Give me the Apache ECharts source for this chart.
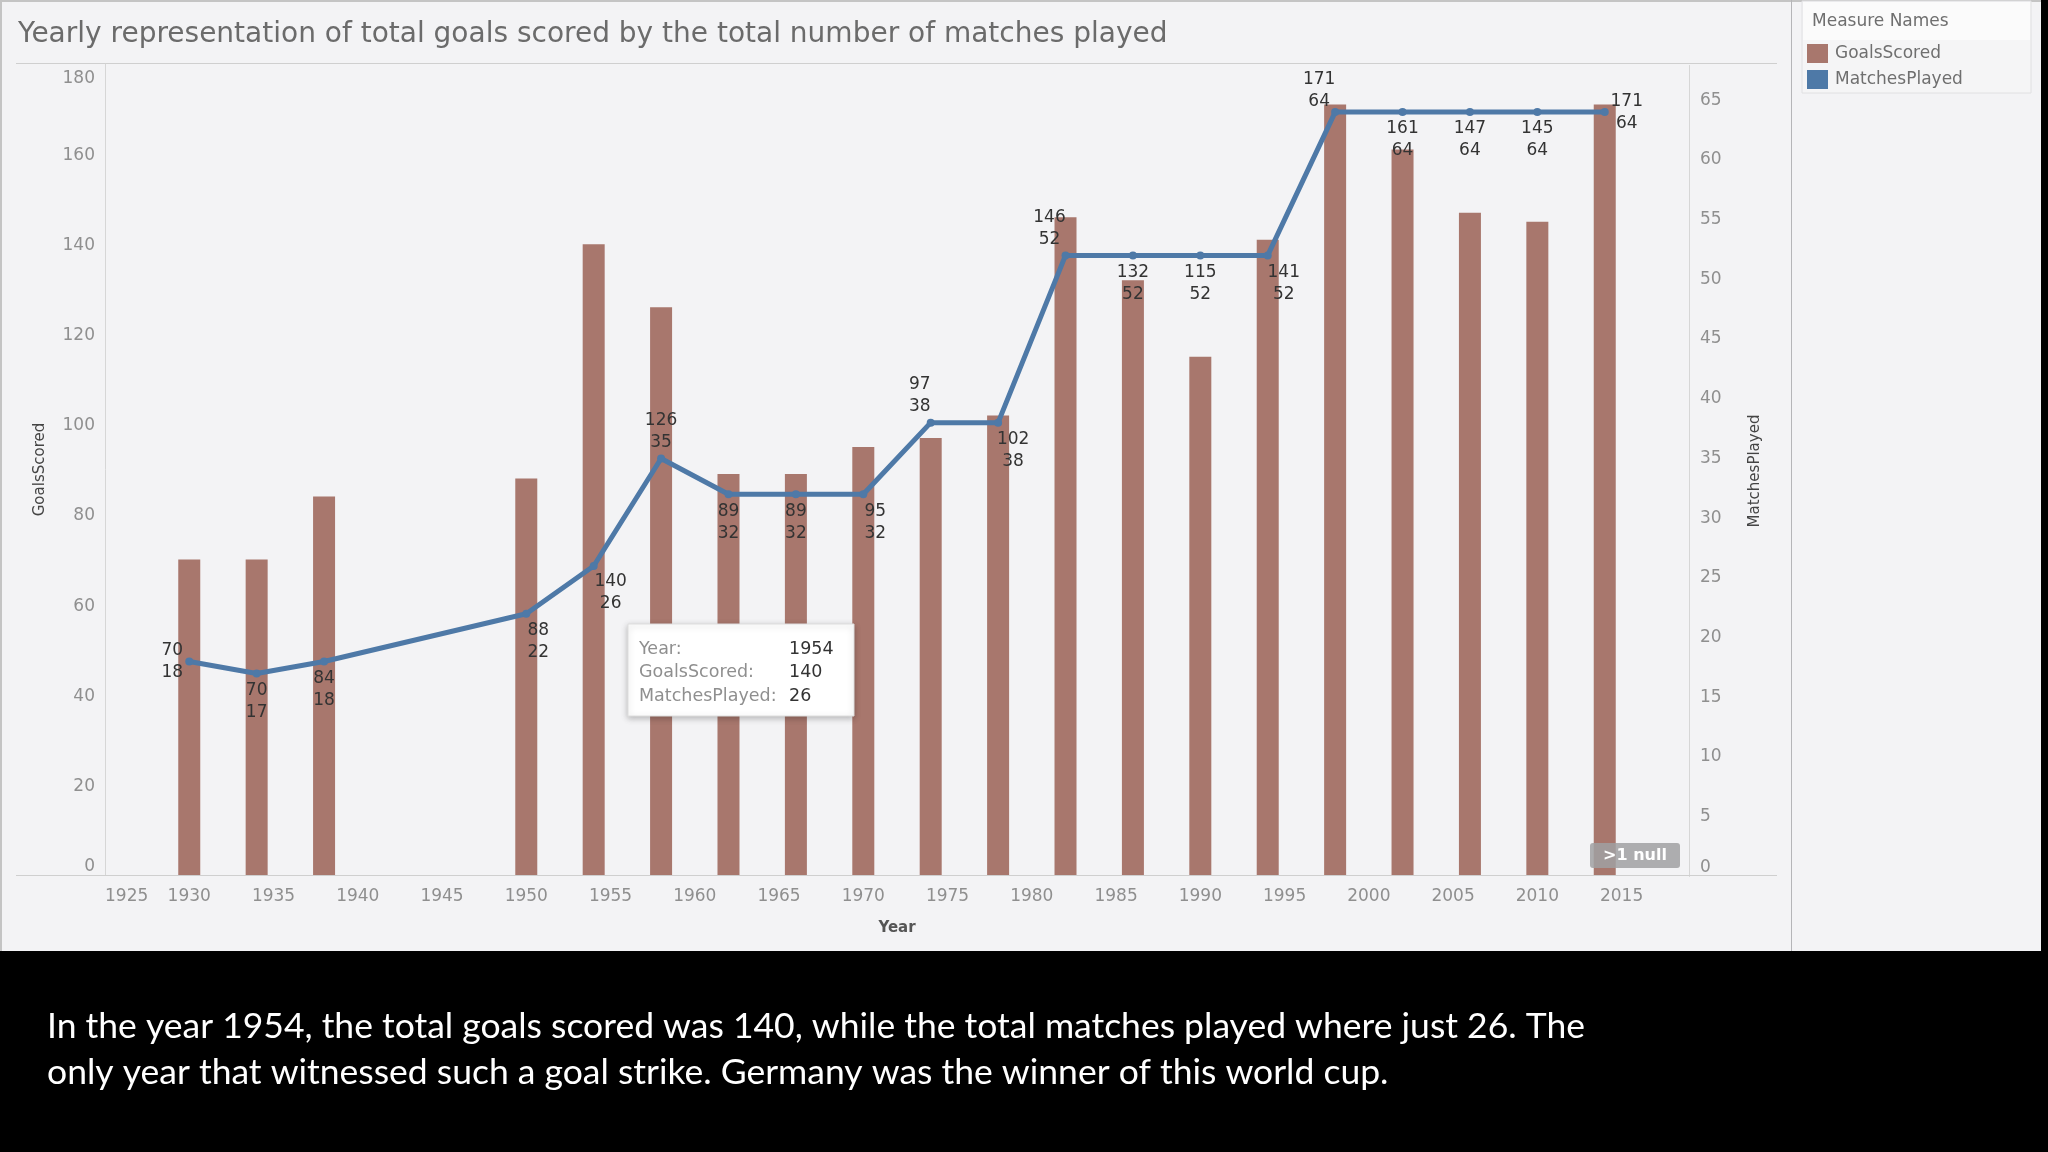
<!DOCTYPE html>
<html>
<head>
<meta charset="utf-8">
<title>Goals by matches</title>
<script src="https://cdn.jsdelivr.net/npm/echarts@6/dist/echarts.min.js"></script>
<style>
  html, body { margin: 0; padding: 0; background: #000; }
  #main { width: 2048px; height: 1152px; }
</style>
</head>
<body>
<div id="main"></div>
<script>
var years = [1930, 1934, 1938, 1950, 1954, 1958, 1962, 1966, 1970, 1974, 1978, 1982, 1986, 1990, 1994, 1998, 2002, 2006, 2010, 2014];
var goalsScored = [70, 70, 84, 88, 140, 126, 89, 89, 95, 97, 102, 146, 132, 115, 141, 171, 161, 147, 145, 171];
var matchesPlayed = [18, 17, 18, 22, 26, 35, 32, 32, 32, 38, 38, 52, 52, 52, 52, 64, 64, 64, 64, 64];
var seriesNames = ['GoalsScored', 'MatchesPlayed'];
var titleText = 'Yearly representation of total goals scored by the total number of matches played';
var captionLines = [
  'In the year 1954, the total goals scored was 140, while the total matches played where just 26. The',
  'only year that witnessed such a goal strike. Germany was the winner of this world cup.'
];

// where each mark label sits relative to its point, the labels dodge the line in the original
var labelOffsets = [
  [-17, 0], [0, 28], [0, 28], [12, 28], [17, 27], [0, -27], [0, 28], [0, 28], [12, 28], [-11, -27],
  [15, 28], [-16, -27], [0, 28], [0, 28], [16, 28], [-16, -22], [0, 27], [0, 27], [0, 27], [22, 0]
];

var font = '"DejaVu Sans", sans-serif';
var tickColor = '#8f8f8f';
var barColor = '#a8776d';
var lineColor = '#4e79a7';

// the callout in the picture is for 1954
var hover = years.indexOf(1954);

var chart = echarts.init(document.getElementById('main'));

var axisNameStyle = { fontFamily: font, fontSize: 15, color: '#444' };

var option = {
  animation: false,
  backgroundColor: '#000',
  textStyle: { fontFamily: font },
  // second grid sits a pixel lower, the line's axis is a little off the bars' baseline in the original
  grid: [
    { left: 105, right: 359, top: 64, bottom: 277 },
    { left: 105, right: 359, top: 65.5, bottom: 275.5 }
  ],
  legend: {
    orient: 'vertical',
    left: 1807,
    top: 44,
    padding: 0,
    itemWidth: 21,
    itemHeight: 19,
    itemGap: 7,
    icon: 'rect',
    data: seriesNames,
    textStyle: { fontFamily: font, fontSize: 17, color: '#6f6f6f', padding: [0, 0, 0, 2] }
  },
  xAxis: [
    {
      type: 'value',
      gridIndex: 0,
      min: 1925,
      max: 2019,
      interval: 5,
      name: 'Year',
      nameLocation: 'middle',
      nameGap: 46,
      nameTextStyle: { fontFamily: font, fontSize: 15, fontWeight: 600, color: '#555' },
      splitLine: { show: false },
      axisTick: { show: false },
      axisLine: { show: false },
      axisLabel: {
        fontSize: 17,
        color: tickColor,
        margin: 13,
        showMaxLabel: false,
        alignMinLabel: 'left',
        formatter: function (v) { return String(v); }
      }
    },
    { type: 'value', gridIndex: 1, min: 1925, max: 2019, show: false }
  ],
  yAxis: [
    {
      type: 'value',
      gridIndex: 0,
      min: 0,
      max: 180,
      interval: 20,
      name: seriesNames[0],
      nameLocation: 'middle',
      nameRotate: 90,
      nameGap: 57,
      nameTextStyle: axisNameStyle,
      splitLine: { show: false },
      axisTick: { show: false },
      axisLine: { show: true, lineStyle: { color: '#d6d6d6', width: 1 } },
      axisLabel: {
        fontSize: 17,
        color: tickColor,
        margin: 10,
        padding: [3, 0, 0, 0],
        verticalAlignMinLabel: 'bottom',
        verticalAlignMaxLabel: 'top',
        formatter: function (v) { return v === 180 ? '{top|180}' : String(v); },
        rich: { top: { padding: [3, 0, 0, 0], fontFamily: font, fontSize: 17, color: tickColor } }
      }
    },
    {
      type: 'value',
      gridIndex: 1,
      min: 0,
      max: 67.9,
      interval: 5,
      position: 'right',
      name: seriesNames[1],
      nameLocation: 'middle',
      nameRotate: 90,
      nameGap: 59,
      nameTextStyle: axisNameStyle,
      splitLine: { show: false },
      axisTick: { show: false },
      axisLine: { show: true, onZero: false, lineStyle: { color: '#d6d6d6', width: 1 } },
      axisLabel: { fontSize: 17, color: tickColor, margin: 11, showMaxLabel: false, verticalAlignMinLabel: 'bottom' }
    }
  ],
  series: [
    {
      name: seriesNames[0],
      type: 'bar',
      xAxisIndex: 0,
      yAxisIndex: 0,
      barWidth: 22,
      itemStyle: { color: barColor },
      data: years.map(function (y, i) { return [y, goalsScored[i]]; })
    },
    {
      name: seriesNames[1],
      type: 'line',
      xAxisIndex: 1,
      yAxisIndex: 1,
      z: 4,
      symbol: 'circle',
      symbolSize: 8,
      itemStyle: { color: lineColor },
      lineStyle: { color: lineColor, width: 5 },
      data: years.map(function (y, i) {
        return {
          value: [y, matchesPlayed[i]],
          label: {
            show: true,
            position: 'inside',
            offset: labelOffsets[i],
            formatter: goalsScored[i] + '\n' + matchesPlayed[i],
            fontFamily: font,
            fontSize: 17,
            lineHeight: 22,
            color: '#333'
          }
        };
      })
    }
  ],
  graphic: {
    elements: [
      // panels behind the chart
      { type: 'rect', z: -10, shape: { x: 0, y: 0, width: 2041, height: 951 }, style: { fill: '#f3f3f5' } },
      { type: 'rect', z: -9, shape: { x: 0, y: 0, width: 2041, height: 2 }, style: { fill: '#c4c4c4' } },
      { type: 'rect', z: -9, shape: { x: 0, y: 0, width: 2, height: 951 }, style: { fill: '#c4c4c4' } },
      { type: 'rect', z: -9, shape: { x: 1791, y: 0, width: 1, height: 951 }, style: { fill: '#b5b5b8' } },
      { type: 'rect', z: -9, shape: { x: 1802, y: 1, width: 229, height: 92 }, style: { fill: '#f5f5f6', stroke: '#e0e0e2', lineWidth: 1 } },
      { type: 'rect', z: -8, shape: { x: 1803, y: 2, width: 227, height: 38 }, style: { fill: '#fbfbfb' } },
      { type: 'text', z: 5, x: 1812, y: 22, style: { text: 'Measure Names', font: '17px ' + font, fill: '#6f6f6f', textVerticalAlign: 'middle' } },
      // rules, they run past the plot on both sides
      { type: 'rect', z: -5, shape: { x: 16, y: 63, width: 1761, height: 1 }, style: { fill: '#cfcfcf' } },
      { type: 'rect', z: 5, shape: { x: 16, y: 875, width: 1761, height: 1 }, style: { fill: '#cfcfcf' } },
      // chart title
      { type: 'text', z: 5, x: 18, y: 35, style: { text: titleText, font: '28px ' + font, fill: '#6b6b6b', textVerticalAlign: 'middle' } },
      // null badge
      { type: 'rect', z: 6, shape: { x: 1590, y: 843, width: 90, height: 25, r: 3 }, style: { fill: 'rgba(160,160,162,0.85)' } },
      { type: 'text', z: 7, x: 1635, y: 856, style: { text: '>1 null', font: 'bold 16px ' + font, fill: '#fff', textAlign: 'center', textVerticalAlign: 'middle' } },
      // callout
      {
        type: 'rect', z: 20,
        shape: { x: 628, y: 624, width: 226, height: 92 },
        style: { fill: '#fff', stroke: '#dedede', lineWidth: 1, shadowBlur: 6, shadowColor: 'rgba(0,0,0,0.25)', shadowOffsetY: 2 }
      },
      { type: 'text', z: 21, x: 639, y: 649, style: { text: 'Year:', font: '17.5px ' + font, fill: '#8f8f8f', textVerticalAlign: 'middle' } },
      { type: 'text', z: 21, x: 639, y: 672, style: { text: seriesNames[0] + ':', font: '17.5px ' + font, fill: '#8f8f8f', textVerticalAlign: 'middle' } },
      { type: 'text', z: 21, x: 639, y: 696, style: { text: seriesNames[1] + ':', font: '17.5px ' + font, fill: '#8f8f8f', textVerticalAlign: 'middle' } },
      { type: 'text', z: 21, x: 789, y: 649, style: { text: String(years[hover]), font: '17.5px ' + font, fill: '#333', textVerticalAlign: 'middle' } },
      { type: 'text', z: 21, x: 789, y: 672, style: { text: String(goalsScored[hover]), font: '17.5px ' + font, fill: '#333', textVerticalAlign: 'middle' } },
      { type: 'text', z: 21, x: 789, y: 696, style: { text: String(matchesPlayed[hover]), font: '17.5px ' + font, fill: '#333', textVerticalAlign: 'middle' } },
      // caption under the chart
      { type: 'text', z: 5, x: 47, y: 1027, style: { text: captionLines[0], font: '35.5px Lato, sans-serif', fill: '#fff', textVerticalAlign: 'middle' } },
      { type: 'text', z: 5, x: 47, y: 1073, style: { text: captionLines[1], font: '35.5px Lato, sans-serif', fill: '#fff', textVerticalAlign: 'middle' } }
    ]
  }
};

chart.setOption(option);
</script>
</body>
</html>
